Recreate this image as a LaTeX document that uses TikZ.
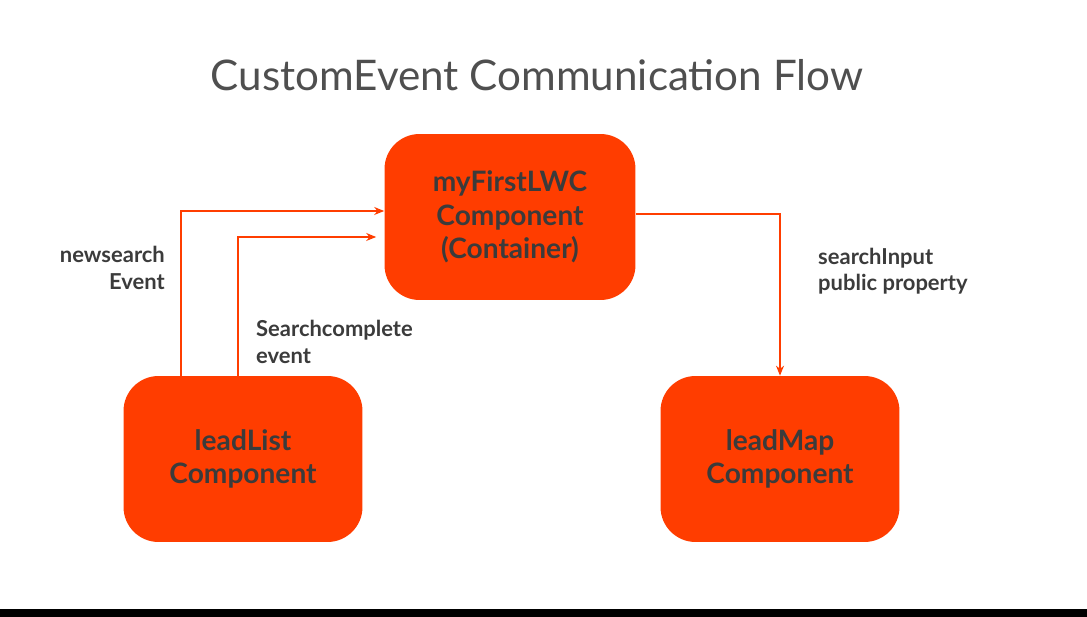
\documentclass[tikz,border=0pt]{standalone}
\usepackage{fontspec}
\setmainfont{Lato}
\usepackage{xcolor}
\usetikzlibrary{arrows.meta, positioning, calc}
\definecolor{flame}{HTML}{FF3D00}
\definecolor{ink}{HTML}{3B3B3B}
\begin{document}
\begin{tikzpicture}[
  x=0.02cm, y=-0.02cm,
  every node/.style={text=ink},
  comp/.style={fill=flame, rounded corners=7mm, minimum width=4.78cm, minimum height=3.32cm, align=center, font=\fontsize{16}{19}\selectfont\bfseries},
  lbl/.style={font=\fontsize{12.5}{15}\selectfont\bfseries},
  flow/.style={-{Stealth[length=2mm,width=1.6mm]}, flame, line width=0.8pt}
]
\useasboundingbox (0,0) rectangle (1087,617);
\fill[black] (0,609) rectangle (1087,617);
\node[font=\fontsize{24}{28}\selectfont, text=ink!90] (title) at (537,75) {CustomEvent Communication Flow};

\node[comp, minimum width=5.02cm] (container) at (510,217) {myFirstLWC\\Component\\(Container)};
\node[comp] (leadlist) at (243,459) {leadList\\Component};
\node[comp] (leadmap) at (780,459) {leadMap\\Component};

\draw[flow] (leadlist.north -| 181,0) |- ($(container.west)+(0,-6)$);
\draw[flow] (leadlist.north -| 238,0) |- ($(container.west)+(-8,20)$);
\draw[flow] ($(container.east)+(0,-3)$) -| (leadmap.north);

\node[lbl, align=right, anchor=east] (newsearch) at (171,268) {newsearch\\Event};
\node[lbl, align=left, anchor=west] (searchdone) at (250,342) {Searchcomplete\\event};
\node[lbl, align=left, anchor=west] (searchinput) at (812,271) {searchInput\\public property};
\end{tikzpicture}
\end{document}
